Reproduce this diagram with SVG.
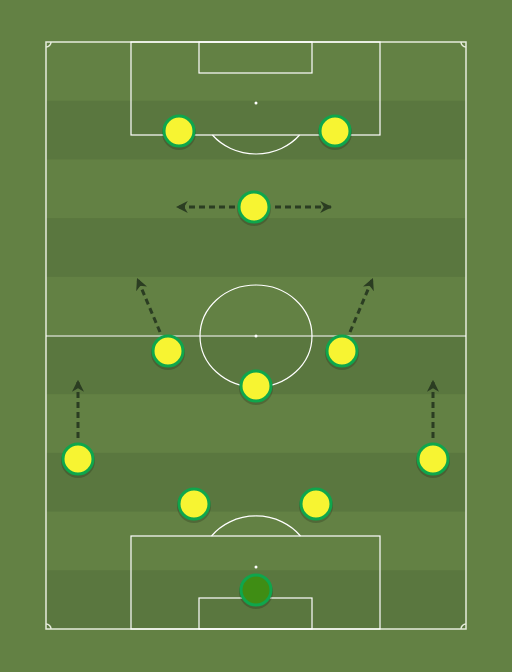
<svg xmlns="http://www.w3.org/2000/svg" width="512" height="672" viewBox="0 0 512 672">
<defs>
<style>
.line{fill:none;stroke:#ffffff;stroke-width:1.2}
.outer{fill:none;stroke:#e6ecdc;stroke-width:1.5}
.stripe{fill:#5a773f}
.player{fill:#f7f432;stroke:#0fa64c;stroke-width:3}
.gk{fill:#3f8d14;stroke:#0fa64c;stroke-width:3}
.shadow{fill:#000000;opacity:0.18}
.run{fill:none;stroke:#2b3d22;stroke-width:3;stroke-dasharray:6 4;marker-end:url(#ah)}
</style>
<marker id="ah" viewBox="0 0 10 10" refX="9" refY="5" markerWidth="4" markerHeight="4" orient="auto" markerUnits="strokeWidth">
<path d="M0,0 L10,5 L0,10 L3,5 Z" fill="#2b3d22"/>
</marker>
</defs>
<rect width="512" height="672" fill="#638144"/>
<g id="pitch">
<rect class="stripe" x="46" y="100.7" width="420" height="58.7"/>
<rect class="stripe" x="46" y="218.1" width="420" height="58.7"/>
<rect class="stripe" x="46" y="335.5" width="420" height="58.7"/>
<rect class="stripe" x="46" y="452.9" width="420" height="58.7"/>
<rect class="stripe" x="46" y="570.3" width="420" height="58.7"/>
<rect class="outer" x="46" y="42" width="420" height="587"/>
<line class="line" x1="46" y1="336" x2="466" y2="336"/>
<ellipse class="line" cx="256" cy="336" rx="56" ry="51"/>
<circle cx="256" cy="336" r="1.5" fill="#fff"/>
<rect class="line" x="131" y="42" width="249" height="93"/>
<rect class="line" x="199" y="42" width="113" height="31"/>
<circle cx="256" cy="103" r="1.5" fill="#fff"/>
<path class="line" d="M212.4,135 A56,51 0 0 0 299.6,135"/>
<rect class="line" x="131" y="536" width="249" height="93"/>
<rect class="line" x="199" y="598" width="113" height="31"/>
<circle cx="256" cy="567" r="1.5" fill="#fff"/>
<path class="line" d="M211.5,536 A56,51 0 0 1 300.5,536"/>
<path class="outer" d="M46,47 A5,5 0 0 0 51,42"/>
<path class="outer" d="M461,42 A5,5 0 0 0 466,47"/>
<path class="outer" d="M46,624 A5,5 0 0 1 51,629"/>
<path class="outer" d="M461,629 A5,5 0 0 1 466,624"/>
</g>
<g id="connectors">
<line class="run" x1="235" y1="207" x2="177" y2="207"/>
<line class="run" x1="275" y1="207" x2="331" y2="207"/>
<line class="run" x1="160" y1="332" x2="137.5" y2="279"/>
<line class="run" x1="350" y1="332" x2="372.5" y2="279"/>
<line class="run" x1="78" y1="438" x2="78" y2="381"/>
<line class="run" x1="433" y1="438" x2="433" y2="381"/>
</g>
<g id="p1"><circle class="shadow" cx="179" cy="133" r="17"/><circle class="player" cx="179" cy="131" r="15"/></g>
<g id="p2"><circle class="shadow" cx="335" cy="133" r="17"/><circle class="player" cx="335" cy="131" r="15"/></g>
<g id="p3"><circle class="shadow" cx="254" cy="209" r="17"/><circle class="player" cx="254" cy="207" r="15"/></g>
<g id="p4"><circle class="shadow" cx="168" cy="353" r="17"/><circle class="player" cx="168" cy="351" r="15"/></g>
<g id="p5"><circle class="shadow" cx="342" cy="353" r="17"/><circle class="player" cx="342" cy="351" r="15"/></g>
<g id="p6"><circle class="shadow" cx="256" cy="388" r="17"/><circle class="player" cx="256" cy="386" r="15"/></g>
<g id="p7"><circle class="shadow" cx="78" cy="461" r="17"/><circle class="player" cx="78" cy="459" r="15"/></g>
<g id="p8"><circle class="shadow" cx="433" cy="461" r="17"/><circle class="player" cx="433" cy="459" r="15"/></g>
<g id="p9"><circle class="shadow" cx="194" cy="506" r="17"/><circle class="player" cx="194" cy="504" r="15"/></g>
<g id="p10"><circle class="shadow" cx="316" cy="506" r="17"/><circle class="player" cx="316" cy="504" r="15"/></g>
<g id="gk"><circle class="shadow" cx="256" cy="592" r="17"/><circle class="gk" cx="256" cy="590" r="15"/></g>
</svg>
